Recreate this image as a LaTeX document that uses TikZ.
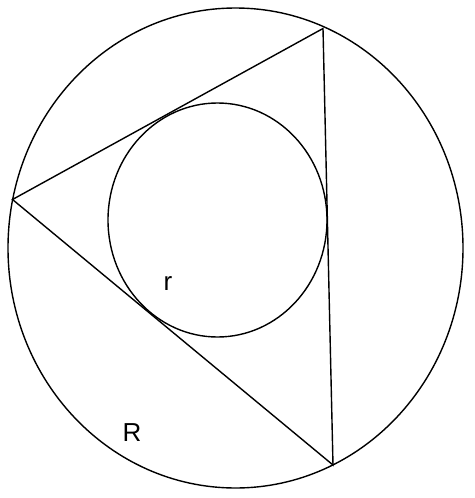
\documentclass[tikz,border=0pt]{standalone}
\usepackage{fontspec}
\setmainfont{Liberation Sans}
\begin{document}
\begin{tikzpicture}[x=1pt,y=-1pt,line width=1.4pt,
  lbl/.style={font=\fontsize{26}{28}\selectfont,inner sep=0pt}]
\useasboundingbox (0,0) rectangle (474,498);
\coordinate (O) at (235.5,248);
\coordinate (I) at (217.5,220);
\coordinate (A) at (323,28.5);
\coordinate (B) at (12.5,199.5);
\coordinate (C) at (333,465);
\draw (O) ellipse [x radius=227.5, y radius=240];
\draw (I) ellipse [x radius=109.5, y radius=117];
\draw (A) -- (B) -- (C) -- cycle;
\node[lbl] (r) at (168,284) {r};
\node[lbl] (R) at (132,433) {R};
\end{tikzpicture}
\end{document}
